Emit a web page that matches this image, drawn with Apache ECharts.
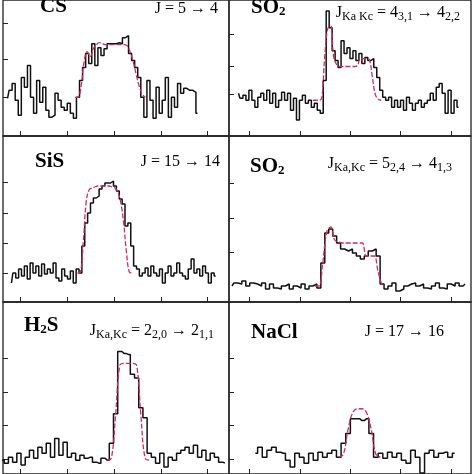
<!DOCTYPE html>
<html><head><meta charset="utf-8">
<script src="https://cdn.jsdelivr.net/npm/echarts@6/dist/echarts.min.js"></script>
<style>html,body{margin:0;padding:0;background:#fff}#c{width:474px;height:474px}</style>
</head><body><div id="c"></div>
<script>
const csObs=[38,46,53,36,21,59,49,71,39,23,56,34,49,26,19,21,43,36,29,26,33,23,18,39,56,69,83,73,93,71,89,81,88,93,93,93,94,93,99,101,83,76,69,59,39,19,56,36,18,49,23,36,59,19,39,29,53,43,48,46,46,44,23];
const csMod={start:22,v:[39,39,50,75,85,80,88,92,94,93,92,92,92,92,92,92,92,91,85,75,62,50,42,39]};
const so2aObs=[43,38,41,36,46,36,29,39,43,36,46,33,43,29,36,44,36,43,26,38,16,36,41,33,36,29,33,26,23,56,126,109,86,76,69,96,83,89,78,86,76,83,73,79,76,78,69,59,46,39,36,39,29,36,29,36,26,39,33,26,33,36,29,33,36,43,36,49,53,43,23,46,23,36,29];
const so2aMod={start:25,v:[36,36,36,38,80,108,111,80,72,70,70,70,70,70,70,71,78,78,78,77,60,42,37,36]};
const sisObs=[19,29,24,33,26,36,23,39,29,36,26,38,28,33,29,39,24,21,33,26,23,31,19,33,29,56,79,89,99,104,106,113,116,119,119,121,116,111,103,98,76,79,56,36,33,26,29,34,26,36,29,26,33,19,29,36,26,29,39,29,26,23,33,43,29,33,26,36,29,19,29,26];
const sisMod={start:23,v:[29,30,60,100,112,114,115,116,116,116,116,116,115,114,110,100,80,50,30,29]};
const so2bObs=[16,19,18,21,16,19,18,16,19,13,18,14,13,16,18,13,16,14,18,13,16,18,14,39,69,73,66,59,53,51,53,49,46,43,46,51,53,46,18,13,16,19,11,13,16,18,19,16,18,14,13,16,19,14,13,18,16,19,16,18];
const so2bMod={start:21,v:[16,16,40,70,75,62,60,59,59,59,59,59,59,46,46,46,30,16]};
const h2sObs=[14,11,17,12,21,9,17,24,16,27,21,31,17,36,19,32,17,21,14,19,16,17,12,11,16,14,31,61,124,122,121,101,97,67,57,21,17,11,21,7,17,14,21,24,27,21,29,17,24,14,21,17,12,11];
const h2sMod={start:25,v:[14,16,60,110,112,112,112,110,60,16,14]};
const naclObs=[21,27,17,24,27,22,21,14,7,21,17,11,21,14,22,17,21,24,17,31,41,56,56,54,56,41,17,21,16,22,17,21,14,11,24,17,1,21,24,17,21,22,17,21];
const naclMod={start:18,v:[17,20,45,62,66,66,62,45,20,17]};

const panels=[
 {obs:csObs,mod:csMod,grid:[3,-1,226,137],span:[6,199],xt:[20,67,114,161,207],yt:[39,77,114]},
 {obs:so2aObs,mod:so2aMod,grid:[229,-1,242,137],span:[237,460],xt:[249,300,350,400,451],yt:[42,70,103]},
 {obs:sisObs,mod:sisMod,grid:[3,136,226,166],span:[10,217],xt:[20,67,114,161,207],yt:[29,59,89,120]},
 {obs:so2bObs,mod:so2bMod,grid:[229,136,242,166],span:[230,467],xt:[249,300,350,400,451],yt:[50,84,119]},
 {obs:h2sObs,mod:h2sMod,grid:[3,302,226,174],span:[0,227],xt:[20,67,114,161,207],yt:[15,49,83,117]},
 {obs:naclObs,mod:naclMod,grid:[229,302,242,174],span:[253,457],xt:[249,300,350,400,451],yt:[15,49,83,117]}
];
const grid=[],xAxis=[],yAxis=[],series=[];
panels.forEach((p,i)=>{
  const [L,T,W,H]=p.grid, n=p.obs.length, st=(p.span[1]-p.span[0])/n;
  const toCh=px=>(px-p.span[0])/st-0.5;
  grid.push({left:L,top:T,width:W,height:H,show:true,borderColor:'#222',borderWidth:1.3,containLabel:false});
  xAxis.push({gridIndex:i,type:'value',min:toCh(L),max:toCh(L+W),axisLine:{show:false,onZero:false},splitLine:{show:false},axisLabel:{show:false},
    axisTick:{show:true,inside:true,length:5,lineStyle:{color:'#222'},customValues:p.xt.map(toCh)}});
  yAxis.push({gridIndex:i,type:'value',min:0,max:H,axisLine:{show:false,onZero:false},splitLine:{show:false},axisLabel:{show:false},
    axisTick:{show:true,inside:true,length:5,lineStyle:{color:'#222'},customValues:p.yt}});
  series.push({type:'line',xAxisIndex:i,yAxisIndex:i,step:'middle',symbol:'none',data:p.obs.map((v,k)=>[k,v]),lineStyle:{color:'#111',width:1.5},z:2});
  series.push({type:'line',xAxisIndex:i,yAxisIndex:i,smooth:0.4,symbol:'none',data:p.mod.v.map((v,k)=>[p.mod.start+k,v]),lineStyle:{color:'#d42a5c',width:1.3,type:[5,2]},z:3});
});
const serif="'Liberation Serif','DejaVu Serif',serif";
const rich={b:{fontFamily:serif,fontWeight:'bold',fontSize:21,color:'#111'},bs:{fontFamily:serif,fontWeight:'bold',fontSize:13,color:'#111',verticalAlign:'bottom',padding:[8,0,0,0]},
 n:{fontFamily:serif,fontSize:16,color:'#111'},s:{fontFamily:serif,fontSize:12,color:'#111',padding:[7,0,0,0]}};
function T(x,y,text,align){return {type:'text',x:x,y:y,z:10,style:{text:text,rich:rich,align:align||'left',verticalAlign:'middle'}};}
const graphic=[
 T(40,7,'{b|CS}'),T(218,9,'{n|J = 5 → 4}','right'),
 T(251,8,'{b|SO}{bs|2}'),T(460,13,'{n|J}{s|Ka Kc}{n| = 4}{s|3,1}{n| → 4}{s|2,2}','right'),
 T(35,162,'{b|SiS}'),T(220,162,'{n|J = 15 → 14}','right'),
 T(250,167,'{b|SO}{bs|2}'),T(452,164,'{n|J}{s|Ka,Kc}{n| = 5}{s|2,4}{n| → 4}{s|1,3}','right'),
 T(24,326,'{b|H}{bs|2}{b|S}'),T(214,331,'{n|J}{s|Ka,Kc}{n| = 2}{s|2,0}{n| → 2}{s|1,1}','right'),
 T(251,333,'{b|NaCl}'),T(444,332,'{n|J = 17 → 16}','right')
];
const chart=echarts.init(document.getElementById('c'),null,{renderer:'canvas'});
chart.setOption({animation:false,grid,xAxis,yAxis,series,graphic});
</script></body></html>
